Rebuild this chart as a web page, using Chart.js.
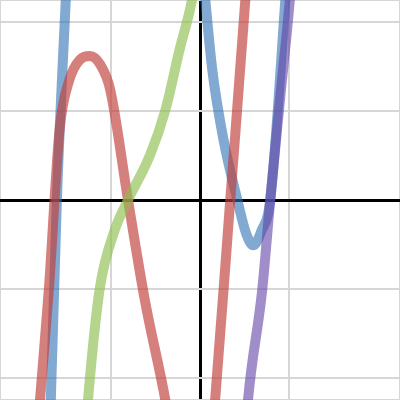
<!DOCTYPE html>
<html>
<head>
<meta charset="utf-8">
<script src="https://cdn.jsdelivr.net/npm/chart.js@4"></script>
<style>
  body { margin: 0; background: #fff; }
  #wrap { width: 400px; height: 400px; }
</style>
</head>
<body>
<div id="wrap"><canvas id="myChart"></canvas></div>
<script>
'use strict';

// points (graph units, grid step 1)
const blueX = [-1.70, -1.61, -1.51, -1.40, -0.02, 0.06, 0.14, 0.26, 0.42, 0.52, 0.60, 0.69, 0.79, 0.96, 1.05];
const blueY = [-3.0, 0.0, 2.25, 4.5, 3.2, 2.25, 1.45, 0.7, 0.0, -0.38, -0.51, -0.35, 0.0, 2.25, 3.6];

const redX = [-1.85, -1.80, -1.70, -1.58, -1.47, -1.35, -1.24, -1.12, -1.01, -0.81, -0.62, -0.39, -0.30, 0.1, 0.17, 0.34, 0.51, 0.56];
const redY = [-2.9, -2.25, -1.0, 0.79, 1.35, 1.58, 1.62, 1.52, 1.24, 0.0, -1.13, -2.25, -2.8, -3.0, -2.25, 0.0, 2.25, 3.0];

const greenX = [-1.30, -1.26, -1.13, -0.96, -0.81, -0.56, -0.39, -0.23, -0.09, -0.05];
const greenY = [-2.8, -2.25, -1.01, -0.34, 0.0, 0.51, 1.01, 1.69, 2.25, 2.5];

const purpleX = [0.50, 0.54, 0.70, 0.79, 0.90, 1.01, 1.05];
const purpleY = [-2.8, -2.25, -1.01, 0.0, 1.13, 2.25, 2.8];

const toPoints = (xs, ys) => xs.map((x, i) => ({ x: x, y: ys[i] }));

const makeSet = (xs, ys, color) => ({
  data: toPoints(xs, ys),
  showLine: true,
  borderColor: color,
  borderWidth: 10,
  pointRadius: 0,
  cubicInterpolationMode: 'monotone',
  fill: false
});

const gridOpts = {
  min: -2.25,
  max: 2.25,
  ticks: { display: false, stepSize: 1 },
  border: { display: false },
  grid: {
    color: c => c.tick && c.tick.value === 0 ? '#000' : '#d6d6d6',
    lineWidth: c => c.tick && c.tick.value === 0 ? 3 : 2,
    drawTicks: false
  }
};

let ctx = document.getElementById('myChart').getContext('2d');

let chart = new Chart(ctx, {
  type: 'scatter',
  data: {
    datasets: [
      makeSet(greenX, greenY, 'rgba(142,190,80,0.65)'),
      makeSet(redX, redY, 'rgba(192,60,56,0.65)'),
      makeSet(purpleX, purpleY, 'rgba(96,66,166,0.6)'),
      makeSet(blueX, blueY, 'rgba(45,112,179,0.6)')
    ]
  },
  options: {
    responsive: true,
    maintainAspectRatio: false,
    animation: false,
    layout: { padding: 0 },
    plugins: { legend: { display: false }, tooltip: { enabled: false } },
    scales: { x: gridOpts, y: gridOpts }
  }
});
</script>
</body>
</html>
